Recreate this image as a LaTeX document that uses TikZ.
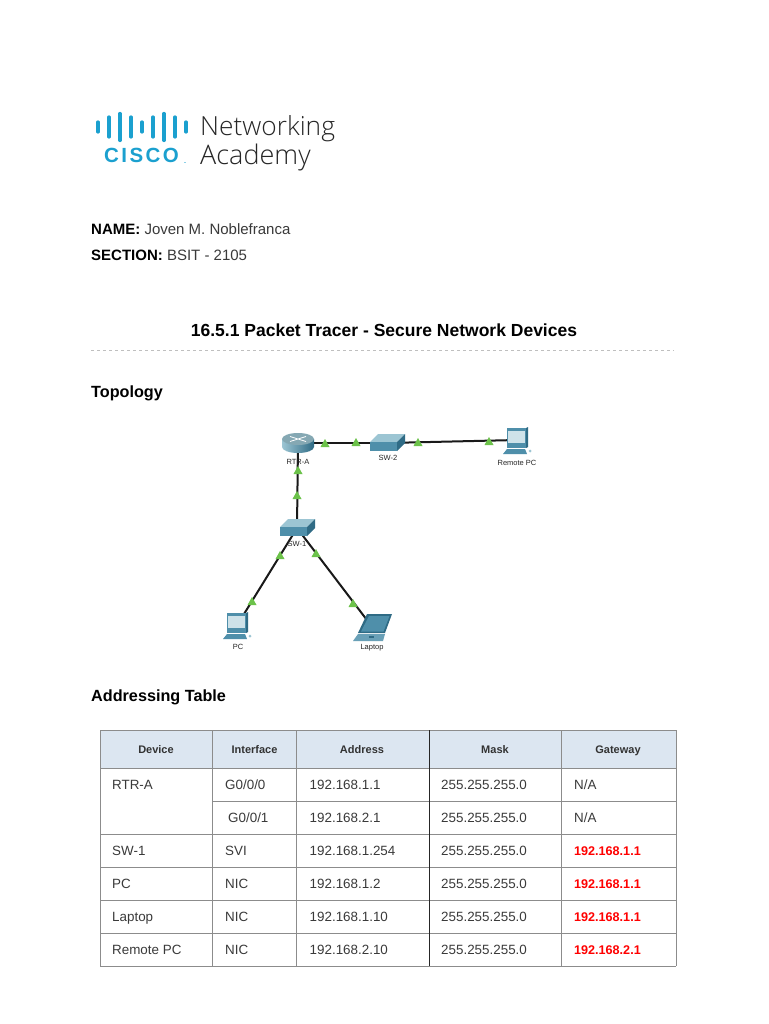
\documentclass[tikz,border=0pt]{standalone}
\usepackage{xcolor}
\usepackage{fontspec}
\setmainfont{Liberation Sans}
\newfontfamily\logofont{Open Sans Light}
\newfontfamily\ciscofont[LetterSpace=12]{Liberation Sans Bold}
\usetikzlibrary{calc}
\definecolor{ciscoblue}{HTML}{1BA0CF}
\definecolor{headblue}{HTML}{DCE6F1}
\definecolor{gridgrey}{HTML}{8C8C8C}
\definecolor{textgrey}{HTML}{3A3A3A}
\definecolor{devblue}{HTML}{4F8FAA}
\definecolor{devdark}{HTML}{2F6B85}
\definecolor{devlight}{HTML}{9CC5D3}
\definecolor{linkgreen}{HTML}{6CC24A}
\tikzset{
  px/.style={font=\fontsize{#1}{#1}\selectfont},
  devnode/.style={inner sep=0pt,minimum size=1pt},
  link/.style={line width=2pt,black!90},
  devlabel/.style={px=7.5,text=black!85,inner sep=0pt},
  cell/.style={px=13.4,text=textgrey,anchor=base west,inner sep=0pt},
  headcell/.style={px=11,text=black!80,anchor=base,inner sep=0pt},
  gatecell/.style={px=12.6,text=red,anchor=base west,inner sep=0pt},
  heading/.style={px=16.2,anchor=base west,inner sep=0pt},
  gridline/.style={gridgrey,line width=0.7pt},
  uptri/.pic={\fill[linkgreen] (-4.5,4)--(4.5,4)--(0,-4)--cycle;},
  router/.pic={
    \shade[left color=devlight,right color=devdark] (-16,-4)--(-16,4) arc[start angle=180,end angle=0,x radius=16,y radius=6]--(16,-4)--cycle;
    \fill[devlight!85!black] (0,-4) ellipse[x radius=16,y radius=6];
    \draw[white,line width=0.8pt] (-8,-6.5)--(8,-1.5) (-8,-1.5)--(8,-6.5);
  },
  switchbox/.pic={
    \fill[devlight] (-17,-1)--(-9,-9)--(18,-9)--(10,-1)--cycle;
    \fill[devblue] (-17,-1)--(10,-1)--(10,8)--(-17,8)--cycle;
    \fill[devdark] (10,-1)--(18,-9)--(18,0)--(10,8)--cycle;
  },
  pcdesk/.pic={
    \fill[devblue] (-11,-14)--(8,-14)--(8,6)--(-11,6)--cycle;
    \fill[devlight!50!white] (-10,-11)--(7,-11)--(7,1)--(-10,1)--cycle;
    \fill[devdark] (8,-14)--(10,-15)--(10,5)--(8,6)--cycle;
    \fill[devblue] (-15,12)--(-11,7)--(7,7)--(9,12)--cycle;
    \fill[devlight] (12,9) circle[radius=1.5];
  },
  laptopbox/.pic={
    \fill[devdark] (-6,-13)--(19,-13)--(12,6)--(-15,6)--cycle;
    \fill[devblue] (-4,-11)--(16.5,-11)--(10.5,4.5)--(-12,4.5)--cycle;
    \fill[devblue!85] (-15,7)--(12,7)--(10,14)--(-20,14)--cycle;
    \fill[devdark] (-4,9)--(1,9)--(1,11)--(-4,11)--cycle;
  }
}
\begin{document}
\begin{tikzpicture}[x=1pt,y=-1pt]
\useasboundingbox (0,0) rectangle (768,1024);
\fill[white] (0,0) rectangle (768,1024);

% logo
\foreach \bx/\bh in {98/10,109/20,120/27,131/20,142/10,153/20,164/27,175/20,186/10}
  \draw[ciscoblue,line width=3.2pt,line cap=round] (\bx,127-\bh/2)--(\bx,127+\bh/2);
\node[px=20.5,text=ciscoblue,anchor=west,inner sep=0pt] (cisco) at (104,155) {\ciscofont CISCO};
\fill[ciscoblue!50] (184,162) rectangle (186,163.5);
\node[px=26.3,text=black!85,anchor=base west,inner sep=0pt] (networking) at (200,136) {\logofont Networking};
\node[px=27,text=black!85,anchor=base west,inner sep=0pt] (academy) at (200,165) {\logofont Academy};

% header
\node[px=15,text=textgrey,anchor=base west,inner sep=0pt] (name) at (91,234) {\textcolor{black}{\textbf{NAME:}} Joven M. Noblefranca};
\node[px=15,text=textgrey,anchor=base west,inner sep=0pt] (section) at (91,260.5) {\textcolor{black}{\textbf{SECTION:}} BSIT - 2105};
\node[px=17.5,inner sep=0pt] (title) at (384,330) {\textbf{16.5.1 Packet Tracer - Secure Network Devices}};
\draw[black!25,dashed,line width=0.5pt] (91,350)--(674,350);
\node[heading] (topology) at (91,397.5) {\textbf{Topology}};
\node[heading] (addressing) at (91,701.5) {\textbf{Addressing Table}};

% topology
\node[devnode] (rtr) at (298,443) {};
\node[devnode] (swtwo) at (387,443) {};
\node[devnode] (remote) at (517,440) {};
\node[devnode] (swone) at (297,528) {};
\node[devnode] (pc) at (236,627) {};
\node[devnode] (laptop) at (373,628) {};
\draw[link] (rtr)--(swtwo);
\draw[link] (swtwo)--(remote);
\draw[link] (rtr)--(swone);
\draw[link] (swone)--(pc);
\draw[link] (swone)--(laptop);
\foreach \tx/\ty in {325/443,356/442,418/442,489/441,298/470,297/495,280/555,316/553,252/601,353/603}
  \pic at (\tx,\ty) {uptri};
\pic at (rtr) {router};
\pic at (swtwo) {switchbox};
\pic at (518,442) {pcdesk};
\pic at (swone) {switchbox};
\pic at (238,627) {pcdesk};
\pic at (373,627) {laptopbox};
\node[devlabel] (rtrlabel) at (298,462) {RTR-A};
\node[devlabel] (swtwolabel) at (388,458) {SW-2};
\node[devlabel] (remotelabel) at (517,463) {Remote PC};
\node[devlabel] (swonelabel) at (297,544) {SW-1};
\node[devlabel] (pclabel) at (238,647) {PC};
\node[devlabel] (laptoplabel) at (372,648) {Laptop};

% table
\fill[headblue] (100,730) rectangle (676,768);
\foreach \ly in {730,768,834,867,900,933,966}
  \draw[gridline] (100,\ly)--(676,\ly);
\draw[gridline] (212,801)--(676,801);
\foreach \lx in {100,212,296,561,676}
  \draw[gridline] (\lx,730)--(\lx,966);
\draw[black!85,line width=0.8pt] (429,730)--(429,966);

\foreach \hx/\htext in {156/Device,254.5/Interface,362/Address,495/Mask,618/Gateway}
  \node[headcell] (head\htext) at (\hx,753.5) {\textbf{\htext}};

\foreach \ry/\rname/\rdev/\rint/\raddr/\rmask in {
    789.5/a/RTR-A/G0\slash 0\slash 0/192.168.1.1/255.255.255.0,
    855.5/c/SW-1/SVI/192.168.1.254/255.255.255.0,
    888.5/d/PC/NIC/192.168.1.2/255.255.255.0,
    921.5/e/Laptop/NIC/192.168.1.10/255.255.255.0,
    954.5/f/Remote PC/NIC/192.168.2.10/255.255.255.0}{
  \node[cell] (dev\rname) at (112,\ry) {\rdev};
  \node[cell] (int\rname) at (225,\ry) {\rint};
  \node[cell] (addr\rname) at (309.5,\ry) {\raddr};
  \node[cell] (mask\rname) at (441,\ry) {\rmask};
}
\node[cell] (intb) at (228,822.5) {G0/0/1};
\node[cell] (addrb) at (309.5,822.5) {192.168.2.1};
\node[cell] (maskb) at (441,822.5) {255.255.255.0};
\node[cell] (gatea) at (574,789.5) {N/A};
\node[cell] (gateb) at (574,822.5) {N/A};
\foreach \ry/\rname/\rgate in {855.5/c/192.168.1.1,888.5/d/192.168.1.1,921.5/e/192.168.1.1,954.5/f/192.168.2.1}
  \node[gatecell] (gate\rname) at (574,\ry) {\textbf{\rgate}};
\end{tikzpicture}
\end{document}
